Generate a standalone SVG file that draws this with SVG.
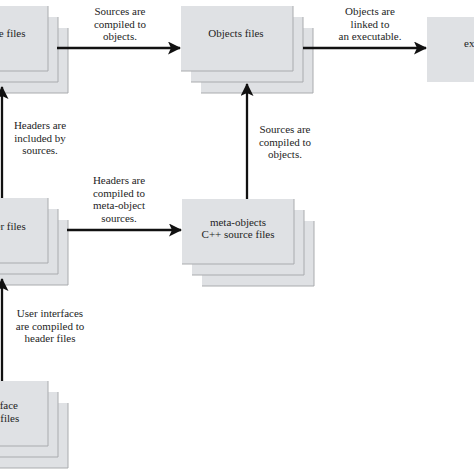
<svg xmlns="http://www.w3.org/2000/svg" width="474" height="474" viewBox="0 0 474 474">
<defs>
<style>
.card{fill:#dfe1e4;}
.edge{fill:none;stroke:#a9abae;stroke-width:1;}
.t{font-family:"Liberation Serif","Times New Roman",serif;font-size:11px;fill:#1e1e1e;text-anchor:middle;}
.c{stroke:#111;stroke-width:2.3;fill:none;}
</style>
<marker id="ah" markerUnits="userSpaceOnUse" markerWidth="13" markerHeight="13" viewBox="0 0 13 13" refX="12" refY="6.5" orient="auto">
<path d="M0,0 L13,6.5 L0,13 L3,6.5 Z" fill="#111"/>
</marker>
<g id="stack">
<rect class="card" x="20" y="22" width="112" height="65"/>
<path class="edge" d="M132,22 V87 H20"/>
<rect class="card" x="10" y="11" width="112" height="65"/>
<path class="edge" d="M122,11 V76 H10"/>
<rect class="card" x="0" y="0" width="112" height="65"/>
<path class="edge" d="M112,0 V65 H0"/>
</g>
</defs>
<rect width="474" height="474" fill="#ffffff"/>

<g id="source-files">
<use href="#stack" x="-64" y="6"/>
<text class="t" x="-11" y="37">C++ source files</text>
</g>

<g id="objects-files">
<use href="#stack" x="181" y="6"/>
<text class="t" x="236" y="37">Objects files</text>
</g>

<g id="executable">
<rect class="card" x="427" y="17" width="112" height="65"/>
<text class="t" x="464" y="47" style="text-anchor:start">executable</text>
</g>

<g id="header-files">
<use href="#stack" x="-64" y="198"/>
<text class="t" x="-11" y="230">C++ header files</text>
</g>

<g id="meta-objects">
<use href="#stack" x="182" y="199"/>
<text class="t" x="238" y="226">meta-objects</text>
<text class="t" x="238" y="238">C++ source files</text>
</g>

<g id="ui-files">
<use href="#stack" x="-64" y="381"/>
<text class="t" x="-13" y="409">User interface</text>
<text class="t" x="-13" y="422">definition files</text>
</g>

<g id="connectors">
<line class="c" x1="57" y1="48" x2="180" y2="48" marker-end="url(#ah)"/>
<line class="c" x1="303" y1="48" x2="426" y2="48" marker-end="url(#ah)"/>
<line class="c" x1="67" y1="230" x2="181" y2="230" marker-end="url(#ah)"/>
<line class="c" x1="247" y1="199" x2="247" y2="84" marker-end="url(#ah)"/>
<line class="c" x1="2" y1="198" x2="2" y2="87" marker-end="url(#ah)"/>
<line class="c" x1="2" y1="381" x2="2" y2="279" marker-end="url(#ah)"/>
</g>

<g id="labels">
<text class="t" x="120" y="15">Sources are</text>
<text class="t" x="120" y="27.5">compiled to</text>
<text class="t" x="120" y="40">objects.</text>

<text class="t" x="370" y="15">Objects are</text>
<text class="t" x="370" y="27.5">linked to</text>
<text class="t" x="370" y="40">an executable.</text>

<text class="t" x="40" y="129">Headers are</text>
<text class="t" x="40" y="141.5">included by</text>
<text class="t" x="40" y="154">sources.</text>

<text class="t" x="119" y="184">Headers are</text>
<text class="t" x="119" y="196.5">compiled to</text>
<text class="t" x="119" y="209">meta-object</text>
<text class="t" x="119" y="221.5">sources.</text>

<text class="t" x="285" y="133">Sources are</text>
<text class="t" x="285" y="145.5">compiled to</text>
<text class="t" x="285" y="158">objects.</text>

<text class="t" x="50" y="317">User interfaces</text>
<text class="t" x="50" y="329.5">are compiled to</text>
<text class="t" x="50" y="342">header files</text>
</g>
</svg>
